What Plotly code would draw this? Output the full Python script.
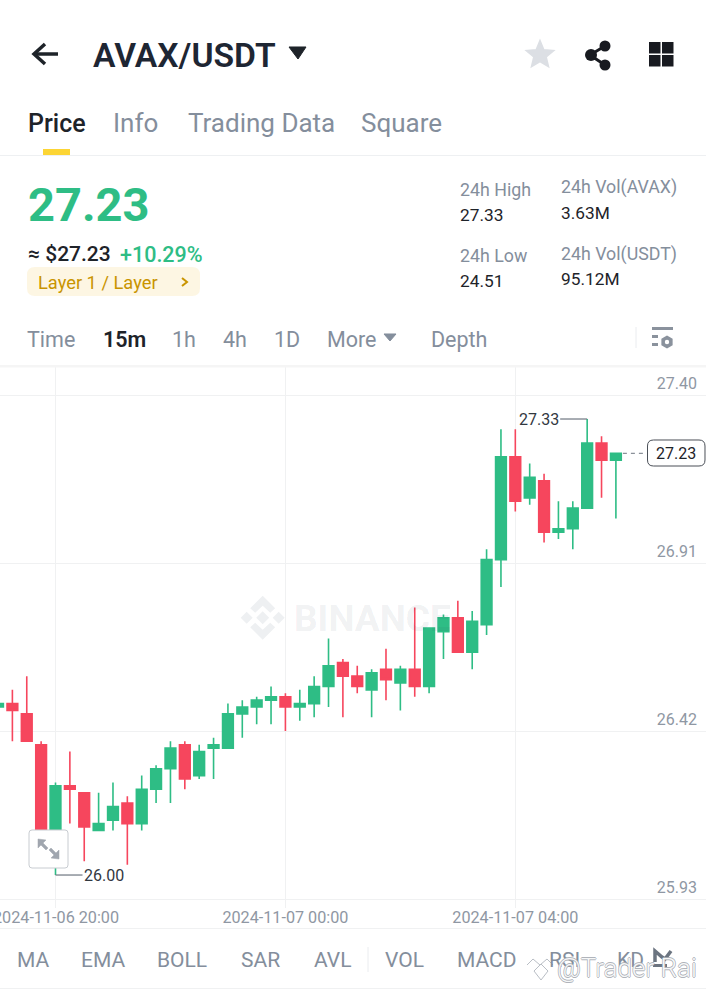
import math
import pandas as pd
import plotly.graph_objects as go

W, H = 706, 990
FONT = "Roboto"
GREEN, RED = "#2ebd85", "#f6465d"
DARK, GREY = "#1e2329", "#848e9c"

start_time = "2024-11-06 19:00"
open_p = [26.49,26.50,26.47,26.38,26.11,26.26,26.24,26.13,26.16,26.21,26.15,26.25,26.31,26.38,26.29,26.37,26.37,26.47,26.49,26.51,26.52,
          26.49,26.50,26.55,26.62,26.58,26.54,26.60,26.56,26.60,26.55,26.71,26.75,26.65,26.73,26.92,27.22,27.10,27.15,27.00,27.01,27.07,27.26,27.21]
high_p = [26.50,26.54,26.58,26.39,26.27,26.36,26.24,26.24,26.27,26.23,26.29,26.32,26.39,26.39,26.38,26.40,26.50,26.51,26.52,26.55,26.53,
          26.54,26.58,26.69,26.63,26.61,26.60,26.66,26.61,26.78,26.72,26.76,26.80,26.77,26.95,27.30,27.30,27.20,27.17,27.09,27.09,27.33,27.28,27.23]
low_p = [26.49,26.39,26.39,26.09,26.00,26.15,26.04,26.13,26.13,26.03,26.13,26.21,26.21,26.25,26.28,26.28,26.37,26.40,26.44,26.44,26.42,
         26.45,26.46,26.49,26.46,26.53,26.46,26.51,26.48,26.52,26.53,26.63,26.65,26.60,26.70,26.84,27.06,27.08,26.97,26.98,26.95,27.07,27.10,27.04]
close_p = [26.50,26.48,26.39,26.11,26.26,26.25,26.14,26.15,26.20,26.15,26.25,26.31,26.37,26.28,26.36,26.38,26.47,26.49,26.51,26.52,26.49,
           26.50,26.55,26.61,26.58,26.55,26.59,26.57,26.60,26.55,26.72,26.75,26.65,26.74,26.92,27.22,27.09,27.16,27.00,27.01,27.07,27.26,27.21,27.23]
price_ticks = [25.93, 26.42, 26.91, 27.40]
time_ticks = ["2024-11-06 20:00", "2024-11-07 00:00", "2024-11-07 04:00"]
last_price = 27.23
high_label, low_label = "27.33", "26.00"
indicators = [("MA",16),("EMA",80),("BOLL",156),("SAR",240),("AVL",313),("VOL",384),("MACD",456),("RSI",548),("KD",616)]
intervals = [("Time",26,GREY,400),("15m",102,DARK,600),("1h",171,GREY,400),("4h",222,GREY,400),("1D",273,GREY,400),("More",326,GREY,400),("Depth",430,GREY,400)]

times = pd.date_range(start_time, periods=len(open_p), freq="15min")
fig = go.Figure(go.Candlestick(
    x=times, open=open_p, high=high_p, low=low_p, close=close_p,
    increasing=dict(line=dict(color=GREEN, width=1.6), fillcolor=GREEN),
    decreasing=dict(line=dict(color=RED, width=1.6), fillcolor=RED),
    hoverinfo="skip", showlegend=False))

px = lambda x: x / W
py = lambda y: 1 - y / H
anns, shapes = [], []

def T(text, x, y, size, color=DARK, weight=400, anchor="left", **kw):
    anns.append(dict(text=text, x=px(x), y=py(y), xref="paper", yref="paper", xanchor=anchor, yanchor="middle",
                     showarrow=False, borderpad=0, font=dict(family=FONT, size=size, color=color, weight=weight, **kw)))

def P(points, close=True):
    return "M" + " L".join(f"{px(a):.5f} {py(b):.5f}" for a, b in points) + (" Z" if close else "")

def path(points, fill=None, line=None, lw=0, close=True, layer="above"):
    s = dict(type="path", xref="paper", yref="paper", path=P(points, close), layer=layer, line=dict(color=line or "rgba(0,0,0,0)", width=lw))
    if fill:
        s["fillcolor"] = fill
    shapes.append(s)

def rect(x0, y0, x1, y1, fill, layer="above"):
    shapes.append(dict(type="rect", xref="paper", yref="paper", x0=px(x0), x1=px(x1), y0=py(y0), y1=py(y1), fillcolor=fill, line=dict(width=0), layer=layer))

def hline(x0, x1, y, color, lw=1, dash="solid"):
    shapes.append(dict(type="line", xref="paper", yref="paper", x0=px(x0), x1=px(x1), y0=py(y), y1=py(y), line=dict(color=color, width=lw, dash=dash)))

def vline(x, y0, y1, color, lw=1):
    shapes.append(dict(type="line", xref="paper", yref="paper", x0=px(x), x1=px(x), y0=py(y0), y1=py(y1), line=dict(color=color, width=lw)))

def circle(cx, cy, r, fill=None, line=None, lw=0):
    s = dict(type="circle", xref="paper", yref="paper", x0=px(cx-r), x1=px(cx+r), y0=py(cy-r), y1=py(cy+r), line=dict(color=line or "rgba(0,0,0,0)", width=lw))
    if fill:
        s["fillcolor"] = fill
    shapes.append(s)

def rrect(x0, y0, x1, y1, r, fill, line=None, lw=0, layer="above"):
    q = lambda a, b: f"{px(a):.5f} {py(b):.5f}"
    d = (f"M{q(x0+r,y0)} L{q(x1-r,y0)} Q{q(x1,y0)} {q(x1,y0+r)} L{q(x1,y1-r)} Q{q(x1,y1)} {q(x1-r,y1)} "
         f"L{q(x0+r,y1)} Q{q(x0,y1)} {q(x0,y1-r)} L{q(x0,y0+r)} Q{q(x0,y0)} {q(x0+r,y0)} Z")
    shapes.append(dict(type="path", xref="paper", yref="paper", path=d, fillcolor=fill, layer=layer, line=dict(color=line or "rgba(0,0,0,0)", width=lw)))

# ---------- header ----------
path([(58,54),(34,54)], line=DARK, lw=3.5, close=False)
path([(45,44),(34,54),(45,64)], line=DARK, lw=3.5, close=False)
T("AVAX/USDT", 92, 55, 33.7, "#1e2633", 600)
path([(289,47),(306,47),(298,59)], fill=DARK, line=DARK, lw=1)
star = [(540 + (14.5 if k % 2 == 0 else 6.5)*math.sin(k*math.pi/5), 55 - (14.5 if k % 2 == 0 else 6.5)*math.cos(k*math.pi/5)) for k in range(10)]
path(star, fill="#dcdfe4", line="#dcdfe4", lw=1.5)
path([(605,46),(590,55),(605,65)], line="#181a20", lw=3, close=False)
circle(605,46,5.5,"#181a20"); circle(591,55,6,"#181a20"); circle(605,65,5.5,"#181a20")
for a, b in [(649,42),(662,42),(649,55),(662,55)]:
    rect(a, b, a+11.5, b+11.5, "#181a20")

# ---------- tabs ----------
T("Price", 27, 123, 25, DARK, 500)
for text, x in [("Info",112),("Trading Data",187),("Square",360)]:
    T(text, x, 123, 26, GREY)
rect(43, 149, 70, 155, "#fcd535")
hline(0, W, 155.5, "#eef0f2")

# ---------- price block ----------
T("27.23", 27, 204, 47, "#2ebd85", 700)
T("≈ $27.23", 27, 254, 21, DARK, 500)
T("+10.29%", 119, 254, 21.5, "#2ebd85", 500)
rrect(27, 267, 200, 296, 8, "#fdf6e3")
T("Layer 1 / Layer", 37, 282, 18.3, "#c99400")
path([(182,278),(187,282),(182,286)], line="#c99400", lw=2, close=False)
for text, x, y in [("24h High",459,189),("24h Low",459,255),("24h Vol(AVAX)",560,187),("24h Vol(USDT)",560,254)]:
    T(text, x, y, 17.8, GREY)
for text, x, y in [("27.33",459,215),("24.51",459,281),("3.63M",560,213),("95.12M",560,279)]:
    T(text, x, y, 17.3, DARK)

# ---------- interval toolbar ----------
for text, x, c, w in intervals:
    T(text, x, 339, 21.5, c, w)
path([(384,334),(396,334),(390,341)], fill=GREY, line=GREY, lw=1)
vline(636, 327, 348, "#eaecef")
rect(652, 327, 673, 330, "#8a929d")
rect(652, 335, 658, 338, "#8a929d"); rect(652, 343, 658, 346, "#8a929d")
hexagon = [(667+6.5*math.sin(k*math.pi/3), 342-6.5*math.cos(k*math.pi/3)) for k in range(6)]
path(hexagon, fill="#8a929d")
circle(667, 342, 2.2, "#ffffff")
rect(0, 365, W, 367.5, "#f5f5f5")

# ---------- chart overlays (positioned from the data) ----------
i_low = low_p.index(min(low_p))
i_high = high_p.index(max(high_p))
t_low, t_high, t_last = times[i_low], times[i_high], times[-1]
LBL = dict(family=FONT, size=16, color="#32383f")
shapes.append(dict(type="line", xref="x", yref="y", xsizemode="pixel", xanchor=t_low, x0=0, x1=27, y0=min(low_p), y1=min(low_p), line=dict(color="#6e7680", width=1.2)))
anns.append(dict(text=low_label, x=t_low, y=min(low_p), xref="x", yref="y", xanchor="left", yanchor="middle", xshift=27, showarrow=False, borderpad=0, font=LBL))
shapes.append(dict(type="line", xref="x", yref="y", xsizemode="pixel", xanchor=t_high, x0=-27, x1=0, y0=max(high_p), y1=max(high_p), line=dict(color="#6e7680", width=1.2)))
anns.append(dict(text=high_label, x=t_high, y=max(high_p), xref="x", yref="y", xanchor="right", yanchor="middle", xshift=-27, showarrow=False, borderpad=0, font=LBL))
shapes.append(dict(type="line", xref="x", yref="y", xsizemode="pixel", xanchor=t_last, x0=7, x1=31, y0=last_price, y1=last_price, line=dict(color="#6e7680", width=1, dash="4px,4px")))
rrect(647.5, 440, 705, 466, 6, "#ffffff", "#4a4f57", 1)
anns.append(dict(text=f"{last_price:.2f}", x=px(676), y=last_price, xref="paper", yref="y", xanchor="center", yanchor="middle", showarrow=False, borderpad=0, font=dict(family=FONT, size=16, color=DARK)))

# first time label runs off the page edge, so it is placed at its tick directly
anns.append(dict(text=time_ticks[0], x=time_ticks[0], y=py(917), xref="x", yref="paper", xanchor="center", yanchor="middle", showarrow=False, borderpad=0,
                 font=dict(family=FONT, size=16.2, color="#8f97a3")))

# expand button
rrect(29, 830, 68, 868, 3, "#ffffff", "#c8ccd1", 1)
path([(38,839),(46,840),(43,843),(48,848),(46,850),(41,845),(38,848)], fill="#a0a6af", line="#a0a6af", lw=0.5)
path([(59,859),(51,858),(54,855),(49,850),(51,848),(56,853),(59,850)], fill="#a0a6af", line="#a0a6af", lw=0.5)

# chart watermark
WM = "#eef0f2"
cx, cy = 262.7, 617.7
path([(cx,cy-22),(cx+12.5,cy-9.5),(cx+7.5,cy-5),(cx,cy-12),(cx-7.5,cy-5),(cx-12.5,cy-9.5)], fill=WM, layer="below")
path([(cx,cy+22),(cx+12.5,cy+9.5),(cx+7.5,cy+5),(cx,cy+12),(cx-7.5,cy+5),(cx-12.5,cy+9.5)], fill=WM, layer="below")
for ox, r in [(-16,6),(16,6),(0,6.5)]:
    path([(cx+ox,cy-r),(cx+ox+r,cy),(cx+ox,cy+r),(cx+ox-r,cy)], fill=WM, layer="below")
T("BINANCE", 293, 618, 37, "rgba(50,70,90,0.085)", 700)

# ---------- indicator bar ----------
hline(0, W, 928.5, "#f0f1f2")
hline(0, W, 988.5, "#f0f1f2")
for text, x in indicators:
    T(text, x, 960, 21, GREY)
vline(368, 947, 972, "#eaecef")
path([(655,962),(655,951),(662,957),(665,959),(671,951)], line="#6b7480", lw=3.5, close=False)
rect(653, 964, 667, 967, "#6b7480")

# bottom watermark
path([(527,965),(533,959),(540,965),(547,959),(553,965)], line="#b9bec5", lw=1, close=False)
path([(534,971),(541,964),(548,971),(541,980)], line="#b9bec5", lw=1)
T("@Trader Rai", 556, 968, 26, "rgba(255,255,255,0.92)", 300,
  shadow="0.7px 0 #a8adb4, -0.7px 0 #a8adb4, 0 0.7px #a8adb4, 0 -0.7px #a8adb4")

fig.update_layout(
    width=W, height=H, autosize=False, margin=dict(l=0, r=0, t=0, b=0),
    paper_bgcolor="#ffffff", plot_bgcolor="#ffffff", boxgap=0.1, boxgroupgap=0.172, hovermode=False,
    annotations=anns, shapes=shapes, showlegend=False,
    xaxis=dict(domain=[0, 1], range=["2024-11-06 19:02:04", "2024-11-07 07:19:03"], type="date",
               tickmode="array", tickvals=time_ticks, ticktext=[""] + time_ticks[1:],
               ticklabelstandoff=-2,
               showgrid=True, gridcolor="#f0f1f2", gridwidth=1, zeroline=False, showline=False, ticks="",
               tickfont=dict(family=FONT, size=16.2, color="#8f97a3"), rangeslider=dict(visible=False)),
    yaxis=dict(domain=[1 - 908/H, 1 - 367/H], range=[25.9038, 27.4817], side="right",
               tickmode="array", tickvals=price_ticks, ticktext=[f"{v:.2f}" for v in price_ticks],
               ticklabelposition="inside top", ticklabelstandoff=6, showgrid=True, gridcolor="#f0f1f2", gridwidth=1,
               zeroline=False, showline=False, ticks="",
               tickfont=dict(family=FONT, size=16, color="#8f97a3")),
)
fig.write_html("out.html", config=dict(displayModeBar=False), post_script="document.body.style.margin='0';")
